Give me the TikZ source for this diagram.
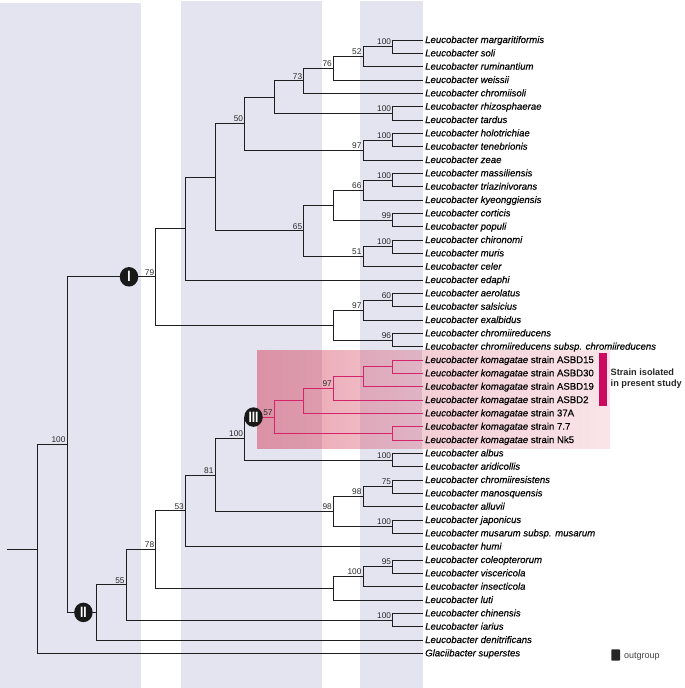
\documentclass[tikz,border=0pt]{standalone}
\usepackage{fontspec}
\setmainfont{Liberation Sans}
\newfontfamily\leaffont{Liberation Sans}[FakeBold=0.35]
\usetikzlibrary{shapes.geometric}
\definecolor{band}{HTML}{E4E3F0}
\definecolor{treeline}{HTML}{1E1E1E}
\definecolor{pinkP}{RGB}{212,70,95}
\definecolor{pinkline}{HTML}{D6246A}
\definecolor{barc}{HTML}{CC0A5E}
\definecolor{numc}{HTML}{2A2A2A}
\tikzset{
 tree/.style={draw=treeline, line width=0.9pt},
 ptree/.style={draw=pinkline, line width=0.9pt},
 leaf/.style={anchor=base west, inner sep=0pt, font=\leaffont\fontsize{9.6}{11}\selectfont, text=black},
 boot/.style={anchor=base east, inner sep=0pt, xshift=-1.5pt, yshift=1.8pt, font=\fontsize{8.3}{9}\selectfont, text=numc},
 clade/.style={ellipse, fill=black!90, minimum width=18.5pt, minimum height=19.5pt, inner sep=0pt, text=white, font=\fontsize{12}{12}\selectfont\bfseries},
 bandbox/.style={fill=band, draw=none},
}
\newcommand\leafrow[2]{\coordinate (l#1) at (423,{40+13.33333*#1}); \node[leaf] (t#1) at (425,{43+13.33333*#1}) {#2};}
\newcommand\Lb[1]{\textit{Leucobacter #1}}
\newcommand\Lk[1]{\textit{Leucobacter komagatae} strain #1}
\begin{document}
\begin{tikzpicture}[x=1pt,y=-1pt]
\useasboundingbox (0,0) rectangle (685,688);
% background bands
\fill[bandbox] (0,3) rectangle (141,688);
\fill[bandbox] (180.5,1) rectangle (322,688);
\fill[bandbox] (360,1) rectangle (422.5,688);
% highlighted clade
\shade[left color=pinkP!52!band, right color=pinkP!45!band] (257,350.7) rectangle (322,448);
\shade[left color=pinkP!43!white, right color=pinkP!38!white] (322,350.7) rectangle (360,448);
\shade[left color=pinkP!37!band, right color=pinkP!30!band] (360,350.7) rectangle (422.5,448);
\shade[left color=pinkP!27!white, right color=pinkP!14!white] (422.5,350.7) rectangle (610,448);

% leaves
\leafrow{0}{\Lb{margaritiformis}}
\leafrow{1}{\Lb{soli}}
\leafrow{2}{\Lb{ruminantium}}
\leafrow{3}{\Lb{weissii}}
\leafrow{4}{\Lb{chromiisoli}}
\leafrow{5}{\Lb{rhizosphaerae}}
\leafrow{6}{\Lb{tardus}}
\leafrow{7}{\Lb{holotrichiae}}
\leafrow{8}{\Lb{tenebrionis}}
\leafrow{9}{\Lb{zeae}}
\leafrow{10}{\Lb{massiliensis}}
\leafrow{11}{\Lb{triazinivorans}}
\leafrow{12}{\Lb{kyeonggiensis}}
\leafrow{13}{\Lb{corticis}}
\leafrow{14}{\Lb{populi}}
\leafrow{15}{\Lb{chironomi}}
\leafrow{16}{\Lb{muris}}
\leafrow{17}{\Lb{celer}}
\leafrow{18}{\Lb{edaphi}}
\leafrow{19}{\Lb{aerolatus}}
\leafrow{20}{\Lb{salsicius}}
\leafrow{21}{\Lb{exalbidus}}
\leafrow{22}{\Lb{chromiireducens}}
\leafrow{23}{\Lb{chromiireducens subsp. chromiireducens}}
\leafrow{24}{\Lk{ASBD15}}
\leafrow{25}{\Lk{ASBD30}}
\leafrow{26}{\Lk{ASBD19}}
\leafrow{27}{\Lk{ASBD2}}
\leafrow{28}{\Lk{37A}}
\leafrow{29}{\Lk{7.7}}
\leafrow{30}{\Lk{Nk5}}
\leafrow{31}{\Lb{albus}}
\leafrow{32}{\Lb{aridicollis}}
\leafrow{33}{\Lb{chromiiresistens}}
\leafrow{34}{\Lb{manosquensis}}
\leafrow{35}{\Lb{alluvii}}
\leafrow{36}{\Lb{japonicus}}
\leafrow{37}{\Lb{musarum subsp. musarum}}
\leafrow{38}{\Lb{humi}}
\leafrow{39}{\Lb{coleopterorum}}
\leafrow{40}{\Lb{viscericola}}
\leafrow{41}{\Lb{insecticola}}
\leafrow{42}{\Lb{luti}}
\leafrow{43}{\Lb{chinensis}}
\leafrow{44}{\Lb{iarius}}
\leafrow{45}{\Lb{denitrificans}}
\leafrow{46}{\textit{Glaciibacter superstes}}

% internal nodes
\coordinate (n1) at (392.7,46.67);
\coordinate (n2) at (363.1,56.67);
\coordinate (n3) at (333.5,68.33);
\coordinate (n4) at (303.9,80.83);
\coordinate (n5) at (392.7,113.33);
\coordinate (n6) at (274.3,97.08);
\coordinate (n7) at (392.7,140);
\coordinate (n8) at (363.1,150);
\coordinate (n9) at (244.7,123.54);
\coordinate (n10) at (392.7,180);
\coordinate (n11) at (363.1,190);
\coordinate (n12) at (392.7,220);
\coordinate (n13) at (333.5,205);
\coordinate (n14) at (392.7,246.67);
\coordinate (n15) at (363.1,256.67);
\coordinate (n16) at (303.9,230.83);
\coordinate (n17) at (215.1,177.19);
\coordinate (n18) at (185.5,228.59);
\coordinate (n19) at (392.7,300);
\coordinate (n20) at (363.1,310);
\coordinate (n21) at (392.7,340);
\coordinate (n22) at (333.5,325);
\coordinate (n23) at (155.9,276.8);
\coordinate (p1) at (392.7,366.67);
\coordinate (p2) at (363.1,376.67);
\coordinate (p3) at (333.5,388.33);
\coordinate (p4) at (303.9,400.83);
\coordinate (p5) at (392.7,433.33);
\coordinate (p6) at (274.3,417.08);
\coordinate (n25) at (392.7,460);
\coordinate (n24) at (244.7,438.54);
\coordinate (n26) at (392.7,486.67);
\coordinate (n27) at (363.1,496.67);
\coordinate (n28) at (392.7,526.67);
\coordinate (n29) at (333.5,511.67);
\coordinate (n30) at (215.1,475.1);
\coordinate (n31) at (185.5,510.89);
\coordinate (n32) at (392.7,566.67);
\coordinate (n33) at (363.1,576.67);
\coordinate (n34) at (333.5,588.33);
\coordinate (n35) at (155.9,549.61);
\coordinate (n36) at (392.7,620);
\coordinate (n37) at (126.3,584.8);
\coordinate (n38) at (96.7,612.4);
\coordinate (n39) at (67.1,444.6);
\coordinate (root) at (37.5,548.97);
\coordinate (stem) at (7,548.97);
\coordinate (c1pos) at (129,276.8);
\coordinate (c2pos) at (83.4,612.4);
\coordinate (c3pos) at (253.5,417.08);

% black branches
\draw[tree] (l0) -| (n1) |- (l1);
\draw[tree] (n1) -| (n2) |- (l2);
\draw[tree] (n2) -| (n3) |- (l3);
\draw[tree] (n3) -| (n4) |- (l4);
\draw[tree] (l5) -| (n5) |- (l6);
\draw[tree] (n4) -| (n6) |- (n5);
\draw[tree] (l7) -| (n7) |- (l8);
\draw[tree] (n7) -| (n8) |- (l9);
\draw[tree] (n6) -| (n9) |- (n8);
\draw[tree] (l10) -| (n10) |- (l11);
\draw[tree] (n10) -| (n11) |- (l12);
\draw[tree] (l13) -| (n12) |- (l14);
\draw[tree] (n11) -| (n13) |- (n12);
\draw[tree] (l15) -| (n14) |- (l16);
\draw[tree] (n14) -| (n15) |- (l17);
\draw[tree] (n13) -| (n16) |- (n15);
\draw[tree] (n9) -| (n17) |- (n16);
\draw[tree] (n17) -| (n18) |- (l18);
\draw[tree] (l19) -| (n19) |- (l20);
\draw[tree] (n19) -| (n20) |- (l21);
\draw[tree] (l22) -| (n21) |- (l23);
\draw[tree] (n20) -| (n22) |- (n21);
\draw[tree] (n18) -| (n23) |- (n22);
\draw[tree] (l31) -| (n25) |- (l32);
\draw[tree] (c3pos) -| (n24) |- (n25);
\draw[tree] (l33) -| (n26) |- (l34);
\draw[tree] (n26) -| (n27) |- (l35);
\draw[tree] (l36) -| (n28) |- (l37);
\draw[tree] (n27) -| (n29) |- (n28);
\draw[tree] (n24) -| (n30) |- (n29);
\draw[tree] (n30) -| (n31) |- (l38);
\draw[tree] (l39) -| (n32) |- (l40);
\draw[tree] (n32) -| (n33) |- (l41);
\draw[tree] (n33) -| (n34) |- (l42);
\draw[tree] (n31) -| (n35) |- (n34);
\draw[tree] (l43) -| (n36) |- (l44);
\draw[tree] (n35) -| (n37) |- (n36);
\draw[tree] (n37) -| (n38) |- (l45);
\draw[tree] (n23) -| (n39) |- (n38);
\draw[tree] (n39) -| (root) |- (l46);
\draw[tree] (stem) -- (root);

% pink branches
\draw[ptree] (l24) -| (p1) |- (l25);
\draw[ptree] (p1) -| (p2) |- (l26);
\draw[ptree] (p2) -| (p3) |- (l27);
\draw[ptree] (p3) -| (p4) |- (l28);
\draw[ptree] (l29) -| (p5) |- (l30);
\draw[ptree] (p4) -| (p6) |- (p5);
\draw[ptree] (c3pos) -- (p6);

% clade markers
\node[clade] (cI) at (c1pos) {\scalebox{1}[1.25]{I}};
\node[clade] (cII) at (c2pos) {\scalebox{1}[1.25]{II}};
\node[clade] (cIII) at (c3pos) {\scalebox{1}[1.25]{III}};

% bootstrap values
\node[boot] (b1) at (n1) {100};
\node[boot] (b2) at (n2) {52};
\node[boot] (b3) at (n3) {76};
\node[boot] (b4) at (n4) {73};
\node[boot] (b5) at (n5) {100};
\node[boot] (b7) at (n7) {100};
\node[boot] (b8) at (n8) {97};
\node[boot] (b9) at (n9) {50};
\node[boot] (b10) at (n10) {100};
\node[boot] (b11) at (n11) {66};
\node[boot] (b12) at (n12) {99};
\node[boot] (b14) at (n14) {100};
\node[boot] (b15) at (n15) {51};
\node[boot] (b16) at (n16) {65};
\node[boot] (b19) at (n19) {60};
\node[boot] (b20) at (n20) {97};
\node[boot] (b21) at (n21) {96};
\node[boot] (b23) at (n23) {79};
\node[boot] (bp3) at (p3) {97};
\node[boot] (bp6) at (p6) {57};
\node[boot] (b24) at (n24) {100};
\node[boot] (b25) at (n25) {100};
\node[boot] (b26) at (n26) {75};
\node[boot] (b27) at (n27) {98};
\node[boot] (b28) at (n28) {100};
\node[boot] (b29) at (n29) {98};
\node[boot] (b30) at (n30) {81};
\node[boot] (b31) at (n31) {53};
\node[boot] (b32) at (n32) {95};
\node[boot] (b33) at (n33) {100};
\node[boot] (b35) at (n35) {78};
\node[boot] (b36) at (n36) {100};
\node[boot] (b37) at (n37) {55};
\node[boot] (b39) at (n39) {100};

% strain annotation
\fill[barc] (598.7,353.3) rectangle (606.7,405.7);
\node[anchor=north west, inner sep=0pt, align=left, font=\fontsize{9.2}{10.7}\selectfont\bfseries, text=black!85] (study) at (610.5,369) {Strain isolated\\in present study};

% legend
\node[fill=black!85, rounded corners=0.8pt, minimum width=8.7pt, minimum height=11.4pt, inner sep=0pt] (legbox) at (615.7,655) {};
\node[anchor=base west, inner sep=0pt, font=\fontsize{9}{10}\selectfont, text=black!75] (legtext) at (624,658.2) {outgroup};
\end{tikzpicture}
\end{document}
